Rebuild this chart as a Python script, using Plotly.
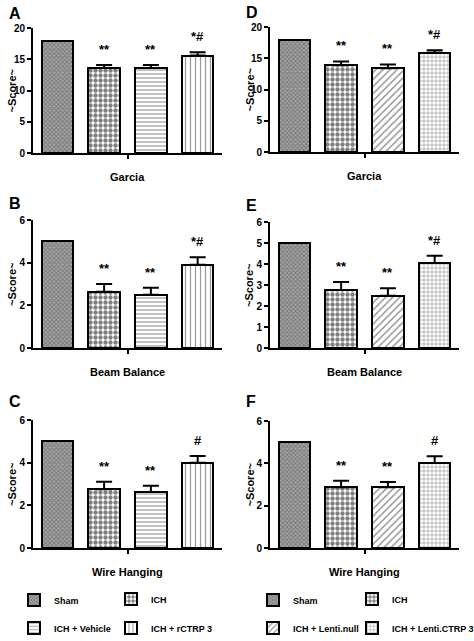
import plotly.graph_objects as go

W, H = 474, 641

# groups for the two experiments
groups_left = ["Sham", "ICH", "ICH + Vehicle", "ICH + rCTRP 3"]
groups_right = ["Sham", "ICH", "ICH + Lenti.null", "ICH + Lenti.CTRP 3"]

# A - Garcia (rCTRP 3)
garcia_left = [18.0, 13.6, 13.6, 15.6]
garcia_left_err = [0, 0.5, 0.5, 0.5]
garcia_left_sig = ["", "**", "**", "*#"]
# B - Beam balance (rCTRP 3)
beam_left = [5.0, 2.64, 2.5, 3.9]
beam_left_err = [0, 0.36, 0.33, 0.35]
beam_left_sig = ["", "**", "**", "*#"]
# C - Wire hanging (rCTRP 3)
wire_left = [5.0, 2.75, 2.62, 4.0]
wire_left_err = [0, 0.35, 0.3, 0.31]
wire_left_sig = ["", "**", "**", "#"]
# D - Garcia (Lenti)
garcia_right = [18.0, 13.9, 13.4, 15.9]
garcia_right_err = [0, 0.6, 0.6, 0.4]
garcia_right_sig = ["", "**", "**", "*#"]
# E - Beam balance (Lenti)
beam_right = [5.0, 2.76, 2.49, 4.05]
beam_right_err = [0, 0.38, 0.35, 0.34]
beam_right_sig = ["", "**", "**", "*#"]
# F - Wire hanging (Lenti)
wire_right = [5.0, 2.87, 2.87, 4.02]
wire_right_err = [0, 0.31, 0.25, 0.32]
wire_right_sig = ["", "**", "**", "#"]

ticks_garcia = [0, 5, 10, 15, 20]
ticks_six = [0, 2, 4, 6]
ticks_one = [0, 1, 2, 3, 4, 5, 6]

patterns = {
    "Sham": dict(shape="x", size=3, solidity=0.5, fgcolor="#444", bgcolor="#a8a8a8"),
    "ICH": dict(shape=".", size=5, solidity=0.6, fgcolor="black", bgcolor="white"),
    "ICH + Vehicle": dict(shape="-", size=4, solidity=0.3, fgcolor="#333", bgcolor="white"),
    "ICH + rCTRP 3": dict(shape="|", size=5, solidity=0.25, fgcolor="#333", bgcolor="white"),
    "ICH + Lenti.null": dict(shape="/", size=5, solidity=0.3, fgcolor="#333", bgcolor="white"),
    "ICH + Lenti.CTRP 3": dict(shape="+", size=4, solidity=0.3, fgcolor="#333", bgcolor="white"),
}

FONT = "Liberation Sans, Arial, sans-serif"


def px_x(p):
    return p / W


def px_y(p):
    return 1 - p / H


# (letter, letter y px, title, groups, means, errs, sigs, ticks, x px domain, y px domain, legend base)
panels = [
    ("A", 14, "Garcia", groups_left, garcia_left, garcia_left_err, garcia_left_sig, ticks_garcia, (33, 222), (28, 153), None),
    ("B", 203, "Beam Balance", groups_left, beam_left, beam_left_err, beam_left_sig, ticks_six, (33, 222), (220, 348), None),
    ("C", 402, "Wire Hanging", groups_left, wire_left, wire_left_err, wire_left_sig, ticks_six, (33, 222), (420, 548), 1),
    ("D", 13, "Garcia", groups_right, garcia_right, garcia_right_err, garcia_right_sig, ticks_garcia, (270, 459), (27, 152), None),
    ("E", 205, "Beam Balance", groups_right, beam_right, beam_right_err, beam_right_sig, ticks_one, (270, 459), (222, 348), None),
    ("F", 402, "Wire Hanging", groups_right, wire_right, wire_right_err, wire_right_sig, ticks_six, (270, 459), (421, 548), 5),
]

# one small legend per swatch: (x px, y px) of each, in group order
legend_spots = {
    1: [(14, 600), (111, 599), (14, 628), (111, 628)],
    5: [(253, 600), (352, 599), (253, 628), (352, 628)],
}

fig = go.Figure()
annotations = []
legends = {}

for k, (letter, ly, title, groups, means, errs, sigs, ticks, xd, yd, leg0) in enumerate(panels):
    n = "" if k == 0 else str(k + 1)
    for i, g in enumerate(groups):
        leg_id = None
        if leg0 is not None:
            num = leg0 + i
            leg_id = "legend" if num == 1 else "legend" + str(num)
            lx, lyy = legend_spots[leg0][i]
            legends[leg_id] = dict(x=px_x(lx), y=px_y(lyy), xanchor="left", yanchor="middle",
                                   bgcolor="rgba(0,0,0,0)",
                                   font=dict(size=9, family=FONT, color="black", weight="bold"))
        fig.add_trace(go.Bar(
            x=[i], y=[means[i]], name=g, width=0.67,
            marker=dict(color="white", pattern=patterns[g], line=dict(color="black", width=2)),
            error_y=dict(type="data", symmetric=False, array=[errs[i]], arrayminus=[0],
                         visible=errs[i] > 0, color="black", thickness=2, width=8),
            xaxis="x" + n, yaxis="y" + n,
            showlegend=leg_id is not None,
            legend=leg_id,
        ))
        if sigs[i]:
            annotations.append(dict(
                x=i, y=means[i] + errs[i], xref="x" + n, yref="y" + n,
                text="<b>" + sigs[i] + "</b>", showarrow=False, yanchor="bottom",
                xanchor="center", yshift=6, font=dict(size=13, family=FONT, color="black"),
            ))
    fig.update_layout({
        "xaxis" + n: dict(domain=[px_x(xd[0]), px_x(xd[1])], range=[-0.52, 3.52],
                          anchor="y" + n, showline=True, linecolor="black", linewidth=2,
                          tickvals=[1.5], ticks="outside", ticklen=4, tickwidth=1.5,
                          tickcolor="black", showticklabels=False, showgrid=False, zeroline=False),
        "yaxis" + n: dict(domain=[px_y(yd[1]), px_y(yd[0])], range=[0, ticks[-1]],
                          anchor="x" + n, showline=True, linecolor="black", linewidth=2,
                          tickvals=ticks, ticks="outside", ticklen=4, tickwidth=1.5,
                          tickcolor="black", showgrid=False, zeroline=False,
                          tickfont=dict(size=10, family=FONT, color="black", weight="bold")),
    })
    annotations.append(dict(x=px_x(xd[0] - 21), y=px_y((yd[0] + yd[1]) / 2), xref="paper", yref="paper",
                            text="<b>~Score~</b>", textangle=-90, showarrow=False,
                            xanchor="center", yanchor="middle",
                            font=dict(size=11, family=FONT, color="black")))
    annotations.append(dict(x=px_x((xd[0] + xd[1]) / 2), y=px_y(yd[1] + 24), xref="paper", yref="paper",
                            text="<b>" + title + "</b>", showarrow=False,
                            xanchor="center", yanchor="middle",
                            font=dict(size=11, family=FONT, color="black")))
    annotations.append(dict(x=px_x(xd[0] - 26), y=px_y(ly), xref="paper", yref="paper",
                            text="<b>" + letter + "</b>", showarrow=False,
                            xanchor="left", yanchor="middle",
                            font=dict(size=16, family=FONT, color="black")))

fig.update_layout(
    width=W, height=H, margin=dict(l=0, r=0, t=0, b=0, autoexpand=False),
    paper_bgcolor="white", plot_bgcolor="white",
    bargap=0, barmode="overlay",
    annotations=annotations,
    **legends,
)

fig.write_html("out.html", config={"displayModeBar": False},
               post_script="document.body.style.margin = '0px';")
